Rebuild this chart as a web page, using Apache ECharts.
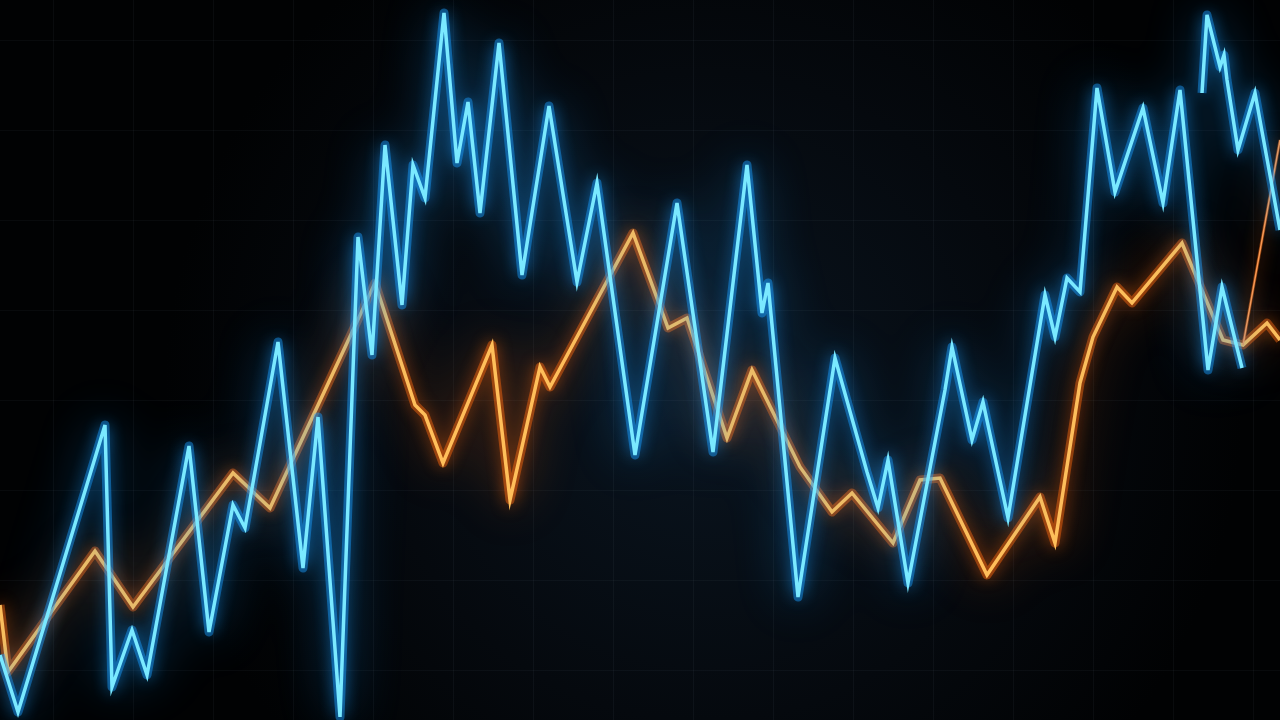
<!DOCTYPE html>
<html>
<head>
<meta charset="utf-8">
<script src="https://cdn.jsdelivr.net/npm/echarts@6/dist/echarts.min.js"></script>
<style>html,body{margin:0;padding:0;background:#020305;}#c{width:1280px;height:720px;}</style>
</head>
<body>
<div id="c"></div>
<script>
// Time (x) and level (y) readings, two signals
const blueX = [1.35,2.25,6.6,6.95,7.95,8.7,10.8,11.8,13.0,13.6,15.25,16.5,17.25,18.35,19.25,19.95,20.6,21.45,22.0,22.6,23.55,24.2,24.75,25.35,26.3,27.45,28.8,30.2,31.2,33.1,35.2,37.0,38.7,39.45,39.75,41.25,43.1,44.7,45.25,45.75,46.75,48.6,48.95,49.95,50.5,51.75,53.6,54.1,54.7,55.35,56.2,57.1,58.5,59.5,60.35,61.75,62.45,63.45];
const blueY = [11.67,5.33,37.22,8.11,14.44,9.44,34.89,14.22,28.33,25.78,46.44,21.33,38.11,4.78,58.11,45.0,68.33,50.56,66.11,62.44,83.0,66.33,73.11,60.78,79.67,53.89,72.67,53.11,64.11,33.89,61.89,34.22,66.11,49.67,53.0,18.11,44.67,32.0,28.0,33.33,19.67,41.11,45.89,35.56,39.78,26.89,51.67,47.0,53.56,52.0,74.67,63.11,72.44,61.89,74.44,43.33,52.56,43.56];
const blue2X = [61.45,61.7,62.35,62.55,62.7,63.25,64.1,65.35];
const blue2Y = [74.11,82.78,77.0,78.33,75.56,67.78,74.11,58.89];
const orangeX = [1.35,1.75,6.1,8.0,13.0,14.85,20.1,22.1,22.6,23.5,25.95,26.85,28.35,28.85,33.0,34.75,35.7,37.7,38.95,41.35,42.95,43.95,46.0,47.35,48.35,50.7,53.35,54.1,55.35,56.0,57.2,57.95,60.45,62.5,63.5,64.7,65.35];
const orangeY = [17.22,9.78,23.22,17.0,31.89,28.0,53.0,39.44,38.33,33.0,46.11,28.89,43.67,41.44,58.56,48.0,49.11,35.78,43.33,32.56,27.56,29.67,24.11,31.11,31.33,20.56,29.22,24.11,41.89,47.0,52.56,50.78,57.44,46.67,46.11,48.56,46.67];
const orangeThinX = [63.5,65.35];
const orangeThinY = [46.11,68.89];

function pairs(xs, ys){ return xs.map((x,i)=>[x, ys[i]]); }
const blueData = pairs(blueX, blueY).concat([[null,null]], pairs(blue2X, blue2Y));
const orangeData = pairs(orangeX, orangeY);
const orangeThinData = pairs(orangeThinX, orangeThinY);

function glowSeries(data, core, glow, width, glowWidth, z){
  return [
    {type:'line', data:data, showSymbol:false, silent:true, z:z, connectNulls:false, clip:false,
     lineStyle:{color:glow, width:glowWidth, opacity:0.45, shadowBlur:50, shadowColor:glow, join:'round'}},
    {type:'line', data:data, showSymbol:false, silent:true, z:z+1, connectNulls:false, clip:false,
     lineStyle:{color:core, width:width, shadowBlur:16, shadowColor:glow, join:'miter', miterLimit:6}}
  ];
}

const chart = echarts.init(document.getElementById('c'));
chart.setOption({
  animation:false,
  backgroundColor:{type:'radial', x:0.55, y:0.55, r:0.75,
    colorStops:[{offset:0,color:'#0a1520'},{offset:0.6,color:'#05090e'},{offset:1,color:'#010203'}]},
  grid:{left:-27, right:-53, top:-50, bottom:-40, containLabel:false, outerBoundsMode:'none'},
  xAxis:{type:'value', min:0, max:68, interval:4,
    axisLine:{show:false}, axisTick:{show:false}, axisLabel:{show:false},
    splitLine:{show:true, lineStyle:{color:'rgba(150,170,190,0.06)', width:1}}},
  yAxis:{type:'value', min:0, max:90, interval:10,
    axisLine:{show:false}, axisTick:{show:false}, axisLabel:{show:false},
    splitLine:{show:true, lineStyle:{color:'rgba(150,170,190,0.05)', width:1}}},
  series:[].concat(
    glowSeries(orangeData, '#ffbf5a', '#ff6a10', 3.5, 9, 2),
    glowSeries(orangeThinData, '#ff9a50', '#ff6a10', 1.5, 3, 2),
    glowSeries(blueData, '#7ae9ff', '#1a9dff', 3.5, 9, 4)
  )
});
</script>
</body>
</html>
